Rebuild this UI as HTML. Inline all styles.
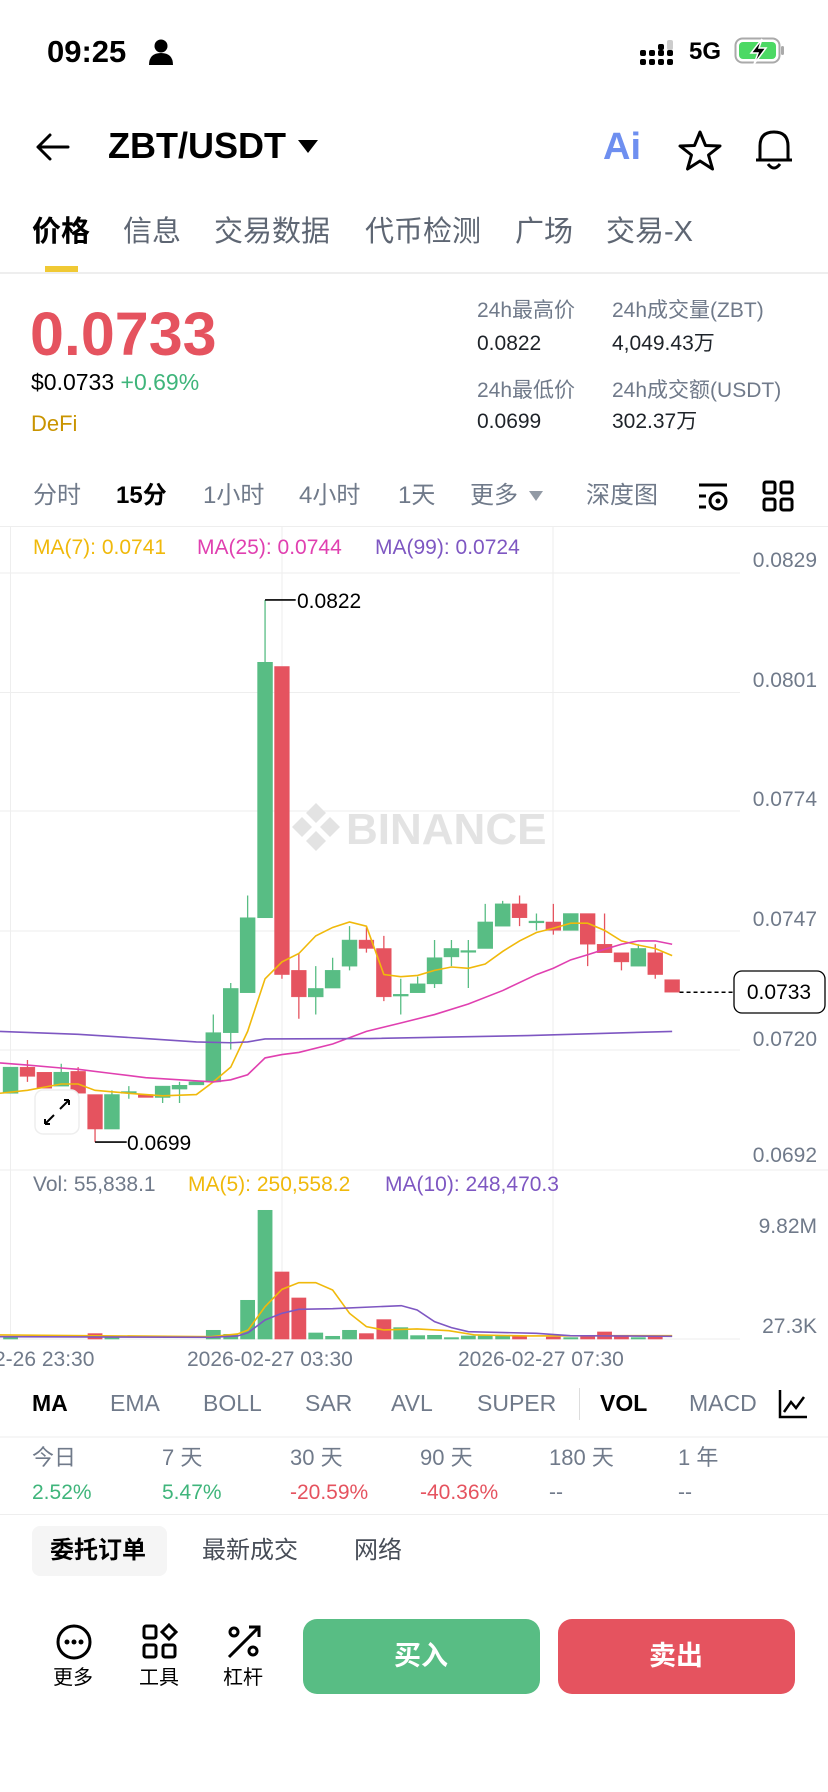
<!DOCTYPE html>
<html><head><meta charset="utf-8">
<style>
body{margin:0;background:#fff}
#p{position:relative;width:828px;height:1792px;overflow:hidden;font-family:"Liberation Sans","Noto Sans CJK SC",sans-serif;color:#1e2329}
.t{position:absolute;line-height:1;white-space:nowrap}
.g{color:#707a8a}
.rd{color:#e5535f}
.ax{font-size:21px;color:#707a8a;right:11px}
</style></head><body><div id="p">
<div class="t" style="left:47px;top:36px;font-size:31px;font-weight:bold;color:#000">09:25</div>
<svg style="position:absolute;left:148px;top:38px" width="26" height="28"><circle cx="13" cy="8" r="6.5" fill="#000"/><path d="M1 27 Q1 15 13 15 Q25 15 25 27Z" fill="#000"/></svg>
<svg style="position:absolute;left:640px;top:40px" width="45" height="26"><g fill="#000"><rect x="0" y="10" width="6" height="6" rx="2"/><rect x="9" y="10" width="6" height="6" rx="2"/><rect x="18" y="10" width="6" height="6" rx="2"/><rect x="0" y="19" width="6" height="6" rx="2"/><rect x="9" y="19" width="6" height="6" rx="2"/><rect x="18" y="19" width="6" height="6" rx="2"/><rect x="27" y="19" width="6" height="6" rx="2"/><rect x="18" y="4" width="6" height="6" rx="2"/><rect x="27" y="10" width="6" height="6" rx="2"/></g><rect x="27" y="0" width="6" height="10" rx="2" fill="#ccc"/></svg>
<div class="t" style="left:689px;top:40px;font-size:24px;font-weight:bold;color:#000">5G</div>
<svg style="position:absolute;left:734px;top:36px" width="52" height="30"><rect x="1.5" y="2.5" width="44" height="24" rx="7" fill="none" stroke="#aaa" stroke-width="2"/><rect x="5" y="6" width="37" height="17" rx="4" fill="#4cd964"/><rect x="47" y="10" width="3" height="9" rx="1.5" fill="#aaa"/><path d="M28 3 L17 17 H24 L20 28 L32 12 H25 Z" fill="#000" stroke="#fff" stroke-width="1.5"/></svg>
<svg style="position:absolute;left:34px;top:132px" width="38" height="30"><path d="M4 15 H34 M16 3 L4 15 L16 27" stroke="#000" stroke-width="3" fill="none" stroke-linecap="round" stroke-linejoin="round"/></svg>
<div class="t" style="left:108px;top:128px;font-size:36px;font-weight:bold;color:#000">ZBT/USDT</div>
<svg style="position:absolute;left:297px;top:138px" width="22" height="16"><path d="M1 2 H21 L11 15Z" fill="#000"/></svg>
<div class="t" style="left:603px;top:128px;font-size:38px;font-weight:bold;color:#6e8ff0">Ai</div>
<svg style="position:absolute;left:674px;top:126px" width="52" height="46"><path d="M26 6 L31.5 19.5 L46 20 L34.5 29 L38.5 43 L26 35 L13.5 43 L17.5 29 L6 20 L20.5 19.5Z" fill="none" stroke="#000" stroke-width="3" stroke-linejoin="round"/></svg>
<svg style="position:absolute;left:750px;top:124px" width="48" height="50"><path d="M10 36 V22 Q10 8 24 8 Q38 8 38 22 V36 H10 Z M6 36 H42" fill="none" stroke="#000" stroke-width="3" stroke-linejoin="round"/><path d="M18 40 Q24 48 30 40" fill="none" stroke="#000" stroke-width="3"/></svg>
<div class="t" style="left:32px;top:218px;font-size:29px;font-weight:bold;color:#000">价格</div>
<div class="t" style="left:123px;top:218px;font-size:29px;color:#5e6673">信息</div>
<div class="t" style="left:214px;top:218px;font-size:29px;color:#5e6673">交易数据</div>
<div class="t" style="left:365px;top:218px;font-size:29px;color:#5e6673">代币检测</div>
<div class="t" style="left:515px;top:218px;font-size:29px;color:#5e6673">广场</div>
<div class="t" style="left:606px;top:218px;font-size:29px;color:#5e6673">交易-X</div>
<div style="position:absolute;left:45px;top:266px;width:33px;height:6px;background:#f0c934"></div>
<div style="position:absolute;left:0;top:272px;width:828px;height:2px;background:#eee"></div>
<div class="t rd" style="left:30px;top:304px;font-size:61px;font-weight:bold">0.0733</div>
<div class="t" style="left:31px;top:371px;font-size:23px;color:#000">$0.0733 <span style="color:#3fb57b">+0.69%</span></div>
<div class="t" style="left:31px;top:413px;font-size:22px;color:#c99400">DeFi</div>
<div class="t g" style="left:477px;top:300px;font-size:21px">24h最高价</div>
<div class="t" style="left:477px;top:333px;font-size:21px">0.0822</div>
<div class="t g" style="left:612px;top:300px;font-size:21px">24h成交量(ZBT)</div>
<div class="t" style="left:612px;top:333px;font-size:21px">4,049.43万</div>
<div class="t g" style="left:477px;top:380px;font-size:21px">24h最低价</div>
<div class="t" style="left:477px;top:411px;font-size:21px">0.0699</div>
<div class="t g" style="left:612px;top:380px;font-size:21px">24h成交额(USDT)</div>
<div class="t" style="left:612px;top:411px;font-size:21px">302.37万</div>
<div class="t g" style="left:33px;top:484px;font-size:24px">分时</div>
<div class="t" style="left:116px;top:484px;font-size:24px;font-weight:bold;color:#000">15分</div>
<div class="t g" style="left:203px;top:484px;font-size:24px">1小时</div>
<div class="t g" style="left:299px;top:484px;font-size:24px">4小时</div>
<div class="t g" style="left:398px;top:484px;font-size:24px">1天</div>
<div class="t g" style="left:470px;top:484px;font-size:24px">更多</div>
<svg style="position:absolute;left:528px;top:490px" width="16" height="12"><path d="M1 1 H15 L8 11Z" fill="#929aa5"/></svg>
<div class="t g" style="left:586px;top:484px;font-size:24px">深度图</div>
<svg style="position:absolute;left:696px;top:481px" width="34" height="32"><g stroke="#000" stroke-width="3" fill="none"><path d="M3 4 H31 M3 15 H10 M3 26 H10"/><circle cx="22" cy="20" r="8"/></g><circle cx="22" cy="20" r="2.5" fill="#000"/></svg>
<svg style="position:absolute;left:762px;top:480px" width="34" height="34"><g stroke="#000" stroke-width="3" fill="none"><rect x="2" y="2" width="11" height="11" rx="2"/><rect x="19" y="2" width="11" height="11" rx="2"/><rect x="2" y="19" width="11" height="11" rx="2"/><rect x="19" y="19" width="11" height="11" rx="2"/></g></svg>
<div style="position:absolute;left:0;top:526px;width:828px;height:1px;background:#eee"></div>

<svg style="position:absolute;left:0;top:0" width="828" height="1792">
<g stroke="#eeeeee" stroke-width="1">
<line x1="0" y1="573" x2="740" y2="573"/><line x1="0" y1="692.5" x2="740" y2="692.5"/><line x1="0" y1="811" x2="740" y2="811"/><line x1="0" y1="931" x2="740" y2="931"/><line x1="0" y1="1050" x2="740" y2="1050"/>
<line x1="0" y1="1170" x2="828" y2="1170"/><line x1="0" y1="1339" x2="740" y2="1339"/>
<line x1="10.5" y1="527" x2="10.5" y2="1339"/><line x1="282" y1="527" x2="282" y2="1339"/><line x1="553" y1="527" x2="553" y2="1339"/>
<line x1="0" y1="1437" x2="828" y2="1437"/>
</g>
<g transform="translate(316,827)" fill="#e3e3e3"><path d="M0 -24 L10 -14 L0 -4 L-10 -14Z M0 4 L10 14 L0 24 L-10 14Z M-24 0 L-14 -10 L-4 0 L-14 10Z M24 0 L14 -10 L4 0 L14 10Z"/></g>
<text x="346" y="844" font-family="Liberation Sans" font-weight="bold" font-size="44" fill="#e3e3e3">BINANCE</text>
<g transform="translate(0,520) scale(0.528,0.4209)">
<g fill="#58bd84" stroke="#58bd84" stroke-width="1.3" vector-effect="non-scaling-stroke">
<path vector-effect="non-scaling-stroke" d="M116 1292V1312 M212 1355V1365 M244 1345V1375 M308 1345V1385 M340 1335V1385 M404 1175V1218 M437 1100V1258 M469 892V945 M502 190V338 M598 1060V1175 M630 1040V1070 M662 965V1070 M759 1090V1175 M791 1085V1102 M823 998V1112 M855 998V1060 M887 998V1112 M919 912V955 M952 905V912 M1016 935V975 M1081 935V975 M1209 1008V1060" fill="none"/>
<rect x="6" y="1300" width="28" height="62"/><rect x="102" y="1312" width="28" height="33"/><rect x="198" y="1365" width="28" height="82"/><rect x="230" y="1358" width="28" height="4"/><rect x="294" y="1345" width="28" height="27"/><rect x="326" y="1343" width="28" height="9"/><rect x="358" y="1335" width="28" height="7"/><rect x="390" y="1218" width="28" height="117"/><rect x="423" y="1113" width="28" height="105"/><rect x="455" y="945" width="28" height="178"/><rect x="488" y="338" width="28" height="607"/><rect x="584" y="1113" width="28" height="20"/><rect x="616" y="1070" width="28" height="42"/><rect x="648" y="998" width="28" height="62"/><rect x="745" y="1127" width="28" height="4"/><rect x="777" y="1102" width="28" height="21"/><rect x="809" y="1040" width="28" height="62"/><rect x="841" y="1018" width="28" height="20"/><rect x="873" y="1023" width="28" height="4"/><rect x="905" y="955" width="28" height="63"/><rect x="938" y="912" width="28" height="53"/><rect x="1002" y="953" width="28" height="4"/><rect x="1067" y="935" width="28" height="40"/><rect x="1195" y="1018" width="28" height="42"/>
</g>
<g fill="#e5535f" stroke="#e5535f">
<path vector-effect="non-scaling-stroke" stroke-width="1.3" d="M52 1283V1335 M148 1300V1362 M180 1447V1478 M534 1080V1090 M566 1030V1185 M694 968V1028 M727 988V1143 M984 892V965 M1048 912V985 M1113 1008V1060 M1145 935V1028 M1177 1050V1070 M1241 1008V1090" fill="none"/>
<rect x="38" y="1300" width="28" height="22"/><rect x="70" y="1312" width="28" height="38"/><rect x="134" y="1310" width="28" height="52"/><rect x="166" y="1365" width="28" height="82"/><rect x="262" y="1365" width="28" height="7"/><rect x="520" y="348" width="28" height="732"/><rect x="552" y="1070" width="28" height="63"/><rect x="680" y="998" width="28" height="20"/><rect x="713" y="1018" width="28" height="115"/><rect x="970" y="912" width="28" height="33"/><rect x="1034" y="955" width="28" height="20"/><rect x="1099" y="935" width="28" height="73"/><rect x="1131" y="1008" width="28" height="20"/><rect x="1163" y="1028" width="28" height="22"/><rect x="1227" y="1028" width="28" height="52"/><rect x="1259" y="1092" width="28" height="30"/>
</g>
<g fill="none" stroke-width="1.6">
<polyline vector-effect="non-scaling-stroke" stroke="#f0b90b" points="0,1362 52,1355 116,1340 148,1340 180,1355 244,1362 308,1368 372,1365 404,1335 437,1300 469,1215 502,1090 534,1050 566,1030 598,988 630,968 662,955 694,965 727,1080 759,1085 791,1082 823,1070 855,1062 887,1065 919,1055 952,1025 984,1000 1016,980 1048,970 1081,958 1113,958 1145,975 1177,1000 1209,1010 1241,1018 1273,1035"/>
<polyline vector-effect="non-scaling-stroke" stroke="#e040b0" points="0,1290 52,1295 116,1302 148,1305 212,1315 276,1325 340,1330 404,1335 437,1330 469,1318 502,1278 534,1270 566,1265 630,1245 694,1215 759,1195 823,1175 887,1150 952,1118 1016,1080 1048,1065 1081,1045 1113,1033 1145,1020 1177,1008 1209,1000 1241,1000 1273,1008"/>
<polyline vector-effect="non-scaling-stroke" stroke="#7e57c2" points="0,1215 148,1222 276,1232 372,1240 437,1242 469,1240 502,1233 700,1232 1000,1225 1273,1215"/>
<polyline vector-effect="non-scaling-stroke" stroke="#000" points="502,190 560,190"/>
<polyline vector-effect="non-scaling-stroke" stroke="#000" points="180,1478 240,1478"/>
<polyline vector-effect="non-scaling-stroke" stroke="#000" stroke-dasharray="4,3" points="1287,1122 1390,1122"/>
</g>
</g>
<text x="297" y="608" font-family="Liberation Sans" font-size="21" fill="#000">0.0822</text>
<text x="127" y="1150" font-family="Liberation Sans" font-size="21" fill="#000">0.0699</text>
<rect x="734" y="971" width="91" height="42" rx="8" fill="#fff" stroke="#000" stroke-width="1.3"/>
<text x="779" y="999" text-anchor="middle" font-family="Liberation Sans" font-size="21" fill="#000">0.0733</text>
<rect x="35" y="1090" width="44" height="44" rx="8" fill="#fff" stroke="#eee" stroke-width="1.5"/>
<path d="M45 1124 L54 1115 M45 1124 H50 M45 1124 V1119 M69 1100 L60 1109 M69 1100 H64 M69 1100 V1105" stroke="#000" stroke-width="2" fill="none"/>
<g transform="translate(0,1150) scale(0.528,0.3333)">
<g fill="#58bd84">
<rect x="6" y="562" width="28" height="6"/><rect x="198" y="562" width="28" height="6"/><rect x="390" y="540" width="28" height="28"/><rect x="423" y="552" width="28" height="16"/><rect x="455" y="450" width="28" height="118"/><rect x="488" y="180" width="28" height="388"/><rect x="584" y="548" width="28" height="20"/><rect x="616" y="558" width="28" height="10"/><rect x="648" y="540" width="28" height="28"/><rect x="745" y="532" width="28" height="36"/><rect x="777" y="556" width="28" height="12"/><rect x="809" y="555" width="28" height="13"/><rect x="841" y="562" width="28" height="6"/><rect x="873" y="557" width="28" height="11"/><rect x="905" y="557" width="28" height="11"/><rect x="938" y="558" width="28" height="10"/><rect x="1067" y="562" width="28" height="6"/><rect x="1195" y="562" width="28" height="6"/>
</g>
<g fill="#e5535f">
<rect x="166" y="550" width="28" height="18"/><rect x="520" y="365" width="28" height="203"/><rect x="552" y="443" width="28" height="125"/><rect x="680" y="550" width="28" height="18"/><rect x="713" y="508" width="28" height="60"/><rect x="970" y="558" width="28" height="10"/><rect x="1034" y="560" width="28" height="8"/><rect x="1099" y="558" width="28" height="10"/><rect x="1131" y="545" width="28" height="23"/><rect x="1163" y="555" width="28" height="13"/><rect x="1227" y="560" width="28" height="8"/>
</g>
<polyline vector-effect="non-scaling-stroke" fill="none" stroke-width="1.6" stroke="#f0b90b" points="0,555 400,560 450,552 470,540 502,470 534,418 566,398 598,398 630,420 662,490 694,530 727,540 790,537 850,542 900,555 1000,558 1273,557"/>
<polyline vector-effect="non-scaling-stroke" fill="none" stroke-width="1.6" stroke="#7e57c2" points="0,560 400,562 450,558 470,548 502,510 534,490 566,478 630,476 760,467 790,480 823,515 855,533 887,545 1016,550 1080,557 1273,559"/>
</g>
</svg>
<div class="t" style="left:33px;top:537px;font-size:21px;color:#f0b90b">MA(7): 0.0741</div>
<div class="t" style="left:197px;top:537px;font-size:21px;color:#e040b0">MA(25): 0.0744</div>
<div class="t" style="left:375px;top:537px;font-size:21px;color:#7e57c2">MA(99): 0.0724</div>
<div class="t ax" style="top:550px">0.0829</div>
<div class="t ax" style="top:670px">0.0801</div>
<div class="t ax" style="top:789px">0.0774</div>
<div class="t ax" style="top:909px">0.0747</div>
<div class="t ax" style="top:1029px">0.0720</div>
<div class="t ax" style="top:1145px">0.0692</div>
<div class="t g" style="left:33px;top:1174px;font-size:21px">Vol: 55,838.1</div>
<div class="t" style="left:188px;top:1174px;font-size:21px;color:#f0b90b">MA(5): 250,558.2</div>
<div class="t" style="left:385px;top:1174px;font-size:21px;color:#7e57c2">MA(10): 248,470.3</div>
<div class="t ax" style="top:1216px">9.82M</div>
<div class="t ax" style="top:1316px">27.3K</div>
<div class="t g" style="left:-6px;top:1349px;font-size:21px">2-26 23:30</div>
<div class="t g" style="left:187px;top:1349px;font-size:21px">2026-02-27 03:30</div>
<div class="t g" style="left:458px;top:1349px;font-size:21px">2026-02-27 07:30</div>
<div class="t" style="left:32px;top:1392px;font-size:23px;font-weight:bold;color:#000">MA</div>
<div class="t g" style="left:110px;top:1392px;font-size:23px">EMA</div>
<div class="t g" style="left:203px;top:1392px;font-size:23px">BOLL</div>
<div class="t g" style="left:305px;top:1392px;font-size:23px">SAR</div>
<div class="t g" style="left:391px;top:1392px;font-size:23px">AVL</div>
<div class="t g" style="left:477px;top:1392px;font-size:23px">SUPER</div>
<div style="position:absolute;left:579px;top:1388px;width:1px;height:32px;background:#ddd"></div>
<div class="t" style="left:600px;top:1392px;font-size:23px;font-weight:bold;color:#000">VOL</div>
<div style="position:absolute;left:689px;top:1387px;width:69px;height:34px;overflow:hidden"><div class="t g" style="left:0;top:5px;font-size:23px">MACD</div></div>
<svg style="position:absolute;left:777px;top:1388px" width="32" height="32"><path d="M3 2 V29 H30 M7 24 L14 14 L19 20 L27 9" fill="none" stroke="#000" stroke-width="2.5"/></svg>
<div class="t g" style="left:32px;top:1447px;font-size:22px">今日</div>
<div class="t g" style="left:162px;top:1447px;font-size:22px">7 天</div>
<div class="t g" style="left:290px;top:1447px;font-size:22px">30 天</div>
<div class="t g" style="left:420px;top:1447px;font-size:22px">90 天</div>
<div class="t g" style="left:549px;top:1447px;font-size:22px">180 天</div>
<div class="t g" style="left:678px;top:1447px;font-size:22px">1 年</div>
<div class="t" style="left:32px;top:1482px;font-size:21px;color:#3fb57b">2.52%</div>
<div class="t" style="left:162px;top:1482px;font-size:21px;color:#3fb57b">5.47%</div>
<div class="t rd" style="left:290px;top:1482px;font-size:21px">-20.59%</div>
<div class="t rd" style="left:420px;top:1482px;font-size:21px">-40.36%</div>
<div class="t g" style="left:549px;top:1482px;font-size:21px">--</div>
<div class="t g" style="left:678px;top:1482px;font-size:21px">--</div>
<div style="position:absolute;left:0;top:1514px;width:828px;height:1px;background:#eee"></div>
<div style="position:absolute;left:32px;top:1526px;width:135px;height:50px;border-radius:8px;background:#f5f5f5"></div>
<div class="t" style="left:50px;top:1539px;font-size:24px;font-weight:bold;color:#000">委托订单</div>
<div class="t" style="left:202px;top:1539px;font-size:24px;color:#474d57">最新成交</div>
<div class="t" style="left:354px;top:1539px;font-size:24px;color:#474d57">网络</div>
<svg style="position:absolute;left:55px;top:1623px" width="38" height="38"><circle cx="19" cy="19" r="16" fill="none" stroke="#000" stroke-width="3"/><circle cx="12" cy="19" r="2.5"/><circle cx="19" cy="19" r="2.5"/><circle cx="26" cy="19" r="2.5"/></svg>
<svg style="position:absolute;left:141px;top:1623px" width="38" height="38"><g fill="none" stroke="#000" stroke-width="3"><rect x="3" y="3" width="12" height="12" rx="2"/><rect x="3" y="22" width="12" height="12" rx="2"/><rect x="22" y="22" width="12" height="12" rx="2"/><path d="M28 2 L35 9 L28 16 L21 9Z"/></g></svg>
<svg style="position:absolute;left:225px;top:1623px" width="38" height="38"><g fill="none" stroke="#000" stroke-width="3"><path d="M4 34 L34 4 M24 4 H34 V14"/><circle cx="9" cy="9" r="4"/><circle cx="28" cy="28" r="4"/></g></svg>
<div class="t" style="left:53px;top:1668px;font-size:20px;color:#000">更多</div>
<div class="t" style="left:139px;top:1668px;font-size:20px;color:#000">工具</div>
<div class="t" style="left:223px;top:1668px;font-size:20px;color:#000">杠杆</div>
<div style="position:absolute;left:303px;top:1619px;width:237px;height:75px;border-radius:14px;background:#58bd84"></div>
<div class="t" style="left:394px;top:1643px;font-size:27px;color:#fff;font-weight:bold">买入</div>
<div style="position:absolute;left:558px;top:1619px;width:237px;height:75px;border-radius:14px;background:#e5535f"></div>
<div class="t" style="left:649px;top:1643px;font-size:27px;color:#fff;font-weight:bold">卖出</div>
</div></body></html>
